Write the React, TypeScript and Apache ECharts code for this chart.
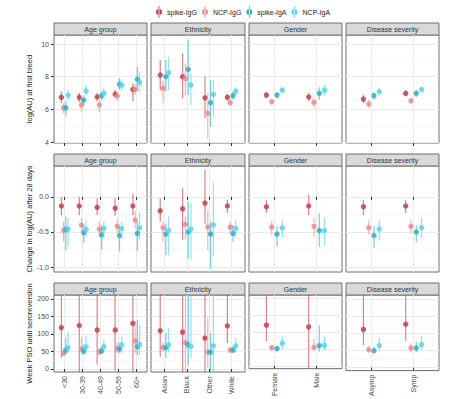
import React, { useEffect, useRef } from 'react';
import * as echarts from 'echarts';

// ---------- data ----------
const assays = ['spike-IgG', 'NCP-IgG', 'spike-IgA', 'NCP-IgA'];
const assayColors = ['#c0424e', '#ec8a8e', '#38acc4', '#52d6ee'];
const facetNames = ['Age group', 'Ethnicity', 'Gender', 'Disease severity'];
const ageGroups = ['<30', '30-39', '40-49', '50-59', '60+'];
const ethnicities = ['Asian', 'Black', 'Other', 'White'];
const genders = ['Female', 'Male'];
const severities = ['Asymp', 'Symp'];
const facetCategories = [ageGroups, ethnicities, genders, severities];
const rowTitles = ['log(AU) at first bleed', 'Change in log(AU) after 28 days', 'Week PSO until seroreversion'];

// tick values per row
const firstBleedTicks = [4, 6, 8, 10];
const firstBleedMinor = [5, 7, 9];
const changeTicks = [-1.0, -0.5, 0.0];
const changeMinor = [-0.75, -0.25, 0.25];
const weeksTicks = [0, 50, 100, 150, 200];
const weeksMinor = [25, 75, 125, 175];

// values: [assay][category] = [estimate, lower, upper]
const firstBleedAge = [
  [[6.74, 6.4, 7.08], [6.74, 6.45, 7.0], [6.76, 6.5, 7.0], [6.98, 6.75, 7.2], [7.22, 6.5, 7.6]],
  [[6.1, 5.75, 6.4], [6.27, 5.85, 6.6], [6.27, 5.85, 6.6], [6.82, 6.5, 7.1], [7.22, 6.9, 7.55]],
  [[6.1, 5.55, 6.5], [6.57, 6.25, 6.85], [6.84, 6.55, 7.1], [7.53, 7.2, 7.9], [7.84, 7.15, 8.6]],
  [[6.88, 6.55, 7.2], [7.18, 6.85, 7.5], [6.98, 6.65, 7.3], [7.49, 7.15, 7.85], [7.66, 7.05, 8.3]],
];
const firstBleedEthnicity = [
  [[8.1, 7.18, 9.02], [8.0, 6.67, 9.43], [6.71, 5.45, 8.0], [6.74, 6.55, 6.95]],
  [[7.29, 6.39, 7.8], [7.9, 6.88, 8.82], [5.76, 4.23, 6.98], [6.41, 6.2, 6.65]],
  [[8.0, 7.08, 9.02], [8.45, 6.88, 10.25], [6.41, 4.94, 7.8], [6.84, 6.6, 7.1]],
  [[8.24, 7.18, 9.22], [7.49, 6.27, 8.2], [6.92, 5.55, 7.8], [7.12, 6.9, 7.35]],
];
const firstBleedGender = [
  [[6.88, 6.7, 7.05], [6.76, 6.5, 7.0]],
  [[6.47, 6.3, 6.65], [6.43, 6.1, 6.7]],
  [[6.88, 6.7, 7.05], [6.98, 6.6, 7.35]],
  [[7.18, 7.0, 7.35], [7.18, 6.85, 7.5]],
];
const firstBleedSeverity = [
  [[6.63, 6.4, 6.9], [6.98, 6.8, 7.18]],
  [[6.33, 6.1, 6.6], [6.53, 6.35, 6.7]],
  [[6.84, 6.6, 7.05], [6.98, 6.75, 7.2]],
  [[7.08, 6.9, 7.3], [7.22, 7.05, 7.4]],
];

const changeAge = [
  [[-0.13, -0.26, 0.0], [-0.13, -0.26, 0.0], [-0.15, -0.26, -0.02], [-0.15, -0.27, -0.02], [-0.13, -0.26, 0.05]],
  [[-0.48, -0.64, -0.35], [-0.4, -0.5, -0.3], [-0.46, -0.57, -0.35], [-0.42, -0.52, -0.32], [-0.33, -0.45, -0.2]],
  [[-0.46, -0.76, -0.28], [-0.51, -0.66, -0.4], [-0.54, -0.75, -0.4], [-0.55, -0.78, -0.42], [-0.52, -0.77, -0.35]],
  [[-0.46, -0.71, -0.3], [-0.45, -0.57, -0.33], [-0.45, -0.57, -0.35], [-0.45, -0.6, -0.35], [-0.44, -0.61, -0.23]],
];
const changeEthnicity = [
  [[-0.2, -0.35, -0.02], [-0.17, -0.61, 0.12], [-0.09, -0.38, 0.39], [-0.13, -0.23, -0.04]],
  [[-0.44, -0.64, -0.35], [-0.39, -0.61, -0.28], [-0.43, -0.76, -0.19], [-0.43, -0.52, -0.35]],
  [[-0.53, -0.83, -0.38], [-0.5, -0.88, -0.07], [-0.53, -1.02, -0.35], [-0.52, -0.64, -0.4]],
  [[-0.48, -0.83, -0.28], [-0.46, -0.9, -0.09], [-0.4, -0.85, 0.2], [-0.45, -0.57, -0.33]],
];
const changeGender = [
  [[-0.14, -0.23, -0.04], [-0.13, -0.26, 0.03]],
  [[-0.43, -0.54, -0.34], [-0.42, -0.57, -0.3]],
  [[-0.53, -0.71, -0.42], [-0.48, -0.71, -0.23]],
  [[-0.44, -0.57, -0.33], [-0.48, -0.69, -0.3]],
];
const changeSeverity = [
  [[-0.14, -0.26, -0.04], [-0.13, -0.23, -0.04]],
  [[-0.44, -0.54, -0.33], [-0.42, -0.52, -0.33]],
  [[-0.55, -0.73, -0.42], [-0.5, -0.64, -0.4]],
  [[-0.46, -0.62, -0.33], [-0.44, -0.57, -0.3]],
];

const weeksAge = [
  [[118, 32, 260], [124, -30, 260], [111, 12, 260], [114, -5, 260], [130, -30, 260]],
  [[45, 38, 55], [57, 42, 90], [49, 40, 60], [59, 45, 75], [80, 45, 135]],
  [[54, 42, 90], [51, 40, 70], [51, 42, 65], [57, 45, 75], [64, 40, 140]],
  [[61, 45, 107], [66, 45, 95], [64, 50, 85], [69, 45, 95], [70, 40, 126]],
];
const weeksEthnicity = [
  [[109, 35, 260], [105, -30, 260], [88, -30, 260], [123, 74, 260]],
  [[61, 50, 75], [75, -30, 260], [48, 3, 146], [54, 45, 65]],
  [[61, 31, 103], [69, 11, 260], [48, -10, 103], [54, 45, 65]],
  [[69, 46, 117], [64, 31, 260], [66, -30, 260], [66, 46, 88]],
];
const weeksGender = [
  [[121, 74, 260], [116, -30, 260]],
  [[54, 45, 62], [55, 42, 80]],
  [[51, 43, 60], [60, 42, 121]],
  [[67, 50, 88], [61, 45, 88]],
];
const weeksSeverity = [
  [[111, 64, 260], [126, 78, 260]],
  [[52, 44, 62], [57, 45, 70]],
  [[49, 42, 60], [57, 45, 75]],
  [[64, 46, 88], [67, 50, 92]],
];

const rowData = [
  [firstBleedAge, firstBleedEthnicity, firstBleedGender, firstBleedSeverity],
  [changeAge, changeEthnicity, changeGender, changeSeverity],
  [weeksAge, weeksEthnicity, weeksGender, weeksSeverity],
];
const rowTicks = [firstBleedTicks, changeTicks, weeksTicks];
const rowMinor = [firstBleedMinor, changeMinor, weeksMinor];
const rowRange = [[3.95, 10.55], [-1.07, 0.44], [-8.6, 211]];
const dodge = [-0.1875, -0.0625, 0.0625, 0.1875];

// ---------- layout ----------
const FONT = '"Liberation Sans", Arial, Helvetica, sans-serif';
const colLeft = [54, 151, 249, 346];
const colWidth = [93, 94, 93, 93];
const rowTop = [35, 166, 295];
const rowHeight = [108, 106, 77];
const stripH = 12;
const borderColor = '#6e6e6e';

function fmtTick(row: number, v: number) {
  if (row === 1) return v.toFixed(1);
  return String(v);
}

function makeRenderItem(color: string) {
  return (params: any, api: any) => {
    const x = api.value(0);
    const c = api.coord([x, api.value(1)]);
    const lo = api.coord([x, api.value(2)]);
    const hi = api.coord([x, api.value(3)]);
    const cs = params.coordSys;
    const top = cs.y;
    const bot = cs.y + cs.height;
    const y1 = Math.max(top, Math.min(bot, hi[1]));
    const y2 = Math.max(top, Math.min(bot, lo[1]));
    return {
      type: 'group',
      children: [
        { type: 'line', shape: { x1: c[0], y1, x2: c[0], y2 }, style: { stroke: color, lineWidth: 1.2, opacity: 0.65 } },
        { type: 'circle', shape: { cx: c[0], cy: c[1], r: 2.7 }, style: { fill: color, opacity: 0.85 } },
      ],
    };
  };
}

function buildOption() {
  const grid: any[] = [];
  const xAxis: any[] = [];
  const yAxis: any[] = [];
  const series: any[] = [];
  const graphic: any[] = [];

  for (let r = 0; r < 3; r++) {
    for (let f = 0; f < 4; f++) {
      const g = r * 4 + f;
      const cats = facetCategories[f];
      grid.push({
        left: colLeft[f], top: rowTop[r], width: colWidth[f], height: rowHeight[r],
        show: true, borderColor, borderWidth: 1, backgroundColor: '#ffffff', containLabel: false,
      });
      const catVals = cats.map((_, i) => i + 1);
      xAxis.push({
        type: 'value', gridIndex: g, min: 0.4, max: cats.length + 0.6,
        axisLine: { show: false },
        axisTick: { show: true, customValues: catVals, length: 3, lineStyle: { color: '#333333', width: 1 } },
        axisLabel: {
          show: r === 2, customValues: catVals, rotate: 90, margin: 4,
          fontSize: 7, color: '#4d4d4d', fontFamily: FONT,
          formatter: (v: number) => cats[Math.round(v) - 1] ?? '',
        },
        splitLine: { show: true, lineStyle: { color: '#ebebeb', width: 1 } },
      });
      yAxis.push({
        type: 'value', gridIndex: g, min: rowRange[r][0], max: rowRange[r][1],
        axisLine: { show: false },
        axisTick: { show: f === 0, customValues: rowTicks[r], length: 3, lineStyle: { color: '#333333', width: 1 } },
        axisLabel: {
          show: f === 0, customValues: rowTicks[r], margin: 5, fontSize: 7, color: '#4d4d4d', fontFamily: FONT,
          formatter: (v: number) => fmtTick(r, v),
        },
        splitLine: { show: true, lineStyle: { color: '#ebebeb', width: 1 } },
        name: f === 0 ? rowTitles[r] : '',
        nameLocation: 'middle', nameRotate: 90, nameGap: 21,
        nameTextStyle: { fontSize: 7.5, color: '#1a1a1a', fontFamily: FONT },
      });
      // strip
      graphic.push({
        type: 'rect', silent: true,
        shape: { x: colLeft[f], y: rowTop[r] - stripH, width: colWidth[f], height: stripH },
        style: { fill: '#d9d9d9', stroke: borderColor, lineWidth: 1 },
      });
      graphic.push({
        type: 'text', silent: true,
        x: colLeft[f] + colWidth[f] / 2, y: rowTop[r] - stripH / 2,
        style: {
          text: facetNames[f], fill: '#333333', fontSize: 7, fontFamily: FONT, fontWeight: 'normal',
          align: 'center', verticalAlign: 'middle', textAlign: 'center', textVerticalAlign: 'middle',
        },
      });
      const vals = rowData[r][f];
      for (let a = 0; a < 4; a++) {
        series.push({
          type: 'custom', name: assays[a], xAxisIndex: g, yAxisIndex: g,
          itemStyle: { color: assayColors[a] },
          renderItem: makeRenderItem(assayColors[a]),
          clip: true,
          data: vals[a].map((v: number[], i: number) => [i + 1 + dodge[a], v[0], v[1], v[2]]),
        });
      }
    }
  }
  // minor grid axes
  for (let r = 0; r < 3; r++) {
    for (let f = 0; f < 4; f++) {
      const g = r * 4 + f;
      yAxis.push({
        type: 'value', gridIndex: g, min: rowRange[r][0], max: rowRange[r][1], position: 'left',
        axisLine: { show: false },
        axisTick: { show: false, customValues: rowMinor[r] },
        axisLabel: { show: false, customValues: rowMinor[r] },
        splitLine: { show: true, lineStyle: { color: '#f3f3f3', width: 0.6 } },
      });
    }
  }

  return {
    animation: false,
    backgroundColor: '#ffffff',
    textStyle: { fontFamily: FONT },
    legend: {
      top: 1, left: 151, itemWidth: 6, itemHeight: 12, itemGap: 5,
      icon: 'path://M2.6,0 L3.4,0 L3.4,12 L2.6,12 Z M0,6 A3,3 0 1,0 6,6 A3,3 0 1,0 0,6 Z',
      textStyle: { fontSize: 7, color: '#1a1a1a', fontFamily: FONT },
      data: assays,
      selectedMode: false,
    },
    grid, xAxis, yAxis, series, graphic,
  };
}

export default function App() {
  const ref = useRef<HTMLDivElement>(null);
  useEffect(() => {
    document.body.style.margin = '0';
    if (!ref.current) return;
    const chart = echarts.init(ref.current, undefined, { renderer: 'svg' });
    chart.setOption(buildOption() as any);
    return () => chart.dispose();
  }, []);
  return <div ref={ref} style={{ width: 474, height: 399 }} />;
}
